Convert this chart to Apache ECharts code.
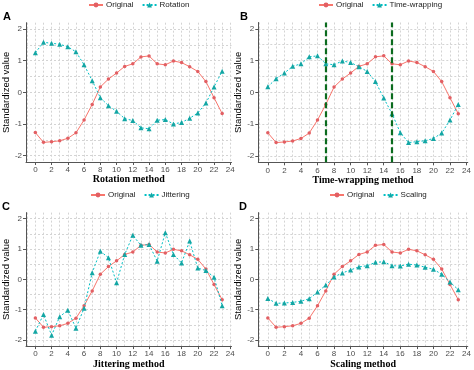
<!DOCTYPE html>
<html><head><meta charset="utf-8">
<script src="https://cdn.jsdelivr.net/npm/echarts@6/dist/echarts.min.js"></script>
<style>html,body{margin:0;padding:0;background:#fff}#c{width:474px;height:370px}</style>
</head><body><div id="c"></div>
<script>
// ---------- data ----------
const hours = [0,1,2,3,4,5,6,7,8,9,10,11,12,13,14,15,16,17,18,19,20,21,22,23];
const original = [-1.27,-1.58,-1.56,-1.53,-1.45,-1.28,-0.87,-0.38,0.17,0.42,0.61,0.82,0.90,1.12,1.15,0.90,0.87,0.99,0.94,0.81,0.66,0.34,-0.17,-0.67];
const rotation = [1.25,1.58,1.55,1.52,1.44,1.28,0.87,0.37,-0.17,-0.42,-0.60,-0.83,-0.89,-1.12,-1.15,-0.88,-0.86,-1.00,-0.95,-0.82,-0.65,-0.34,0.17,0.67];
const timeWrapping = [0.18,0.43,0.61,0.82,0.90,1.12,1.15,0.90,0.87,0.99,0.94,0.81,0.66,0.34,-0.18,-0.67,-1.27,-1.58,-1.55,-1.52,-1.45,-1.28,-0.87,-0.38];
const jittering = [-1.71,-1.16,-1.84,-1.23,-1.02,-1.61,-0.95,0.22,0.93,0.71,-0.11,0.82,1.45,1.12,1.15,0.60,1.54,0.82,0.54,1.26,0.37,0.29,0.07,-0.87];
const scaling = [-0.63,-0.79,-0.78,-0.76,-0.72,-0.64,-0.42,-0.19,0.08,0.21,0.31,0.41,0.45,0.56,0.58,0.45,0.44,0.50,0.47,0.40,0.33,0.17,-0.09,-0.34];
const warpMarks = [7, 15];
const xTicks = [0,2,4,6,8,10,12,14,16,18,20,22,24];
const yTicks = [-2,-1,0,1,2];
const letters = ['A','B','C','D'];
const augNames = ['Rotation','Time-wrapping','Jittering','Scaling'];
const augValues = [rotation, timeWrapping, jittering, scaling];
const xTitles = ['Rotation method','Time-wrapping method','Jittering method','Scaling method'];

// ---------- layout ----------
const geo = [
  {left:20.5, top:22.7, width:211, height:139.3, legendLeft:88, legendTop:1, letterX:3, letterY:11},
  {left:258.3, top:22.5, width:212.5, height:139.8, legendLeft:318, legendTop:1, letterX:240, letterY:11},
  {left:20.5, top:212.6, width:211, height:139.8, legendLeft:90, legendTop:191, letterX:2, letterY:201},
  {left:258.3, top:212.6, width:212.5, height:139.8, legendLeft:329, legendTop:191, letterX:239, letterY:201}
];
const axisColor = '#555';
const gridLine = {color:'#d4d4d4', type:[2,2], width:1};
const RED = '#F8766D', REDM = '#E25F63', TEAL = '#00BFC4', TEALM = '#13A6A4';

const option = {
  animation:false,
  backgroundColor:'#fff',
  title:[], legend:[], grid:[], xAxis:[], yAxis:[], series:[]
};

geo.forEach((g, i) => {
  option.grid.push({left:g.left, top:g.top, width:g.width, height:g.height, containLabel:false});
  option.title.push({text:letters[i], left:g.letterX, top:g.letterY, padding:0,
    textStyle:{fontSize:11, fontWeight:'bold', color:'#000', fontFamily:'Liberation Sans'}});
  option.legend.push({data:['Original', augNames[i]], left:g.legendLeft, top:g.legendTop,
    itemWidth:14, itemHeight:6, itemGap:8, padding:0,
    textStyle:{fontSize:8, color:'#222', fontFamily:'Liberation Sans', padding:[0,0,0,-2]}});
  // visible axes
  option.xAxis.push({type:'value', gridIndex:i, min:-1.15, max:24.15, minInterval:2, maxInterval:2,
    axisLine:{show:true, onZero:false, lineStyle:{color:axisColor, width:1}},
    axisTick:{show:true, length:3, customValues:xTicks, lineStyle:{color:axisColor}},
    axisLabel:{customValues:xTicks, fontSize:8, color:'#4d4d4d', margin:4, fontFamily:'Liberation Sans'},
    splitLine:{show:false},
    name:xTitles[i], nameLocation:'middle', nameGap:9,
    nameTextStyle:{fontFamily:'Liberation Serif', fontWeight:'bold', fontSize:10, color:'#000', verticalAlign:'top'}});
  // grid axes
  option.xAxis.push({type:'value', gridIndex:i, min:-1.15, max:24.15, minInterval:1, maxInterval:1,
    axisLine:{show:false}, axisTick:{show:false}, axisLabel:{show:false},
    splitLine:{show:true, showMinLine:false, showMaxLine:false, lineStyle:gridLine}});
  option.yAxis.push({type:'value', gridIndex:i, min:-2.2, max:2.2, minInterval:1, maxInterval:1,
    axisLine:{show:true, onZero:false, lineStyle:{color:axisColor, width:1}},
    axisTick:{show:true, length:3, customValues:yTicks, lineStyle:{color:axisColor}},
    axisLabel:{customValues:yTicks, fontSize:8, color:'#4d4d4d', margin:4, fontFamily:'Liberation Sans'},
    splitLine:{show:false},
    name:'Standardized value', nameLocation:'middle', nameGap:10,
    nameTextStyle:{fontSize:9.5, color:'#000', fontFamily:'Liberation Sans'}});
  option.yAxis.push({type:'value', gridIndex:i, min:-2.2, max:2.2, minInterval:0.5, maxInterval:0.5,
    axisLine:{show:false}, axisTick:{show:false}, axisLabel:{show:false},
    splitLine:{show:true, showMinLine:false, showMaxLine:false, lineStyle:gridLine}});

  option.series.push({name:'Original', type:'line', xAxisIndex:2*i, yAxisIndex:2*i,
    data:hours.map((h,k)=>[h, original[k]]), symbol:'circle', symbolSize:3.5, z:3,
    lineStyle:{color:RED, width:1}, itemStyle:{color:REDM}});
  const aug = {name:augNames[i], type:'line', xAxisIndex:2*i, yAxisIndex:2*i,
    data:hours.map((h,k)=>[h, augValues[i][k]]), symbol:'triangle', symbolSize:5, z:4,
    lineStyle:{color:TEAL, width:1, type:[2,2]}, itemStyle:{color:TEALM}};
  if (i === 1) {
    aug.markLine = {silent:true, symbol:'none', label:{show:false},
      lineStyle:{color:'#0b6b1e', width:2.2, type:[6,3]},
      data: warpMarks.map(v => ({xAxis:v}))};
  }
  option.series.push(aug);
});

const chart = echarts.init(document.getElementById('c'), null, {renderer:'canvas'});
chart.setOption(option);
</script>
</body></html>
